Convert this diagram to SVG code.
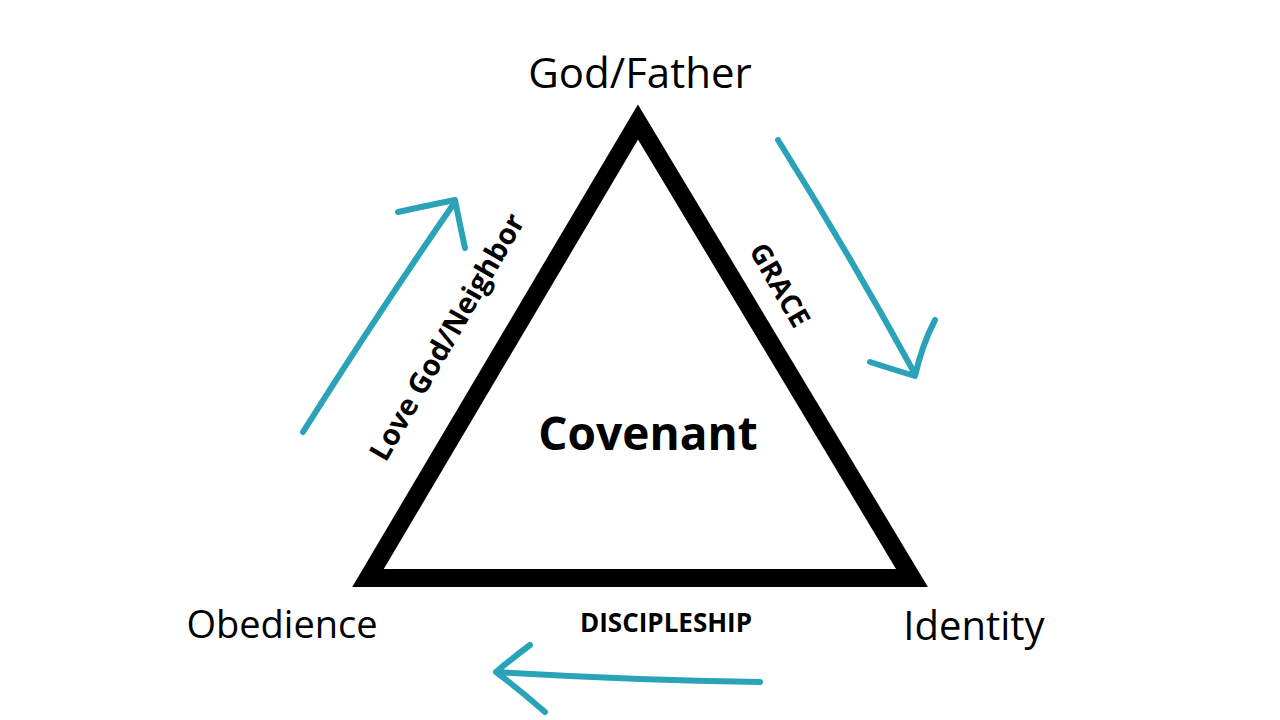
<svg xmlns="http://www.w3.org/2000/svg" width="1280" height="720" viewBox="0 0 1280 720">
<style>
.t{font-family:"Open Sans","Liberation Sans",sans-serif;fill:#000}
.b{font-weight:bold}
.a{fill:none;stroke:#2aa3b8;stroke-width:6;stroke-linecap:round;stroke-linejoin:round}
</style>
<rect width="1280" height="720" fill="#fff"/>
<g id="triangle"><polygon points="638,122 368,578 912,578" fill="none" stroke="#000" stroke-width="18" stroke-linejoin="miter"/></g>
<g id="connectors">
<path class="a" d="M303,432 Q380,310 455,202 M398,212 Q430,205 455,200 Q460,225 465,248"/>
<path class="a" d="M778,140 Q850,255 915,374 M870,362 Q895,370 915,376 Q922,345 935,320"/>
<path class="a" d="M760,682 Q630,680 497,672 M530,645 Q510,660 496,672 Q520,690 545,712"/>
</g>
<g id="god"><text class="t" x="640" y="88" font-size="42" text-anchor="middle">God/Father</text></g>
<g id="covenant"><text class="t b" x="648" y="450" font-size="46" text-anchor="middle">Covenant</text></g>
<g id="obedience"><text class="t" x="282" y="638" font-size="38" text-anchor="middle">Obedience</text></g>
<g id="identity"><text class="t" x="974" y="640" font-size="40" text-anchor="middle">Identity</text></g>
<g id="discipleship"><text class="t b" x="666" y="632" font-size="26" text-anchor="middle">DISCIPLESHIP</text></g>
<g id="grace"><text class="t b" transform="translate(780,285) rotate(60)" font-size="28" text-anchor="middle" dy="10">GRACE</text></g>
<g id="love"><text class="t b" transform="translate(447,337) rotate(-60)" font-size="29" text-anchor="middle" dy="10">Love God/Neighbor</text></g>
</svg>
